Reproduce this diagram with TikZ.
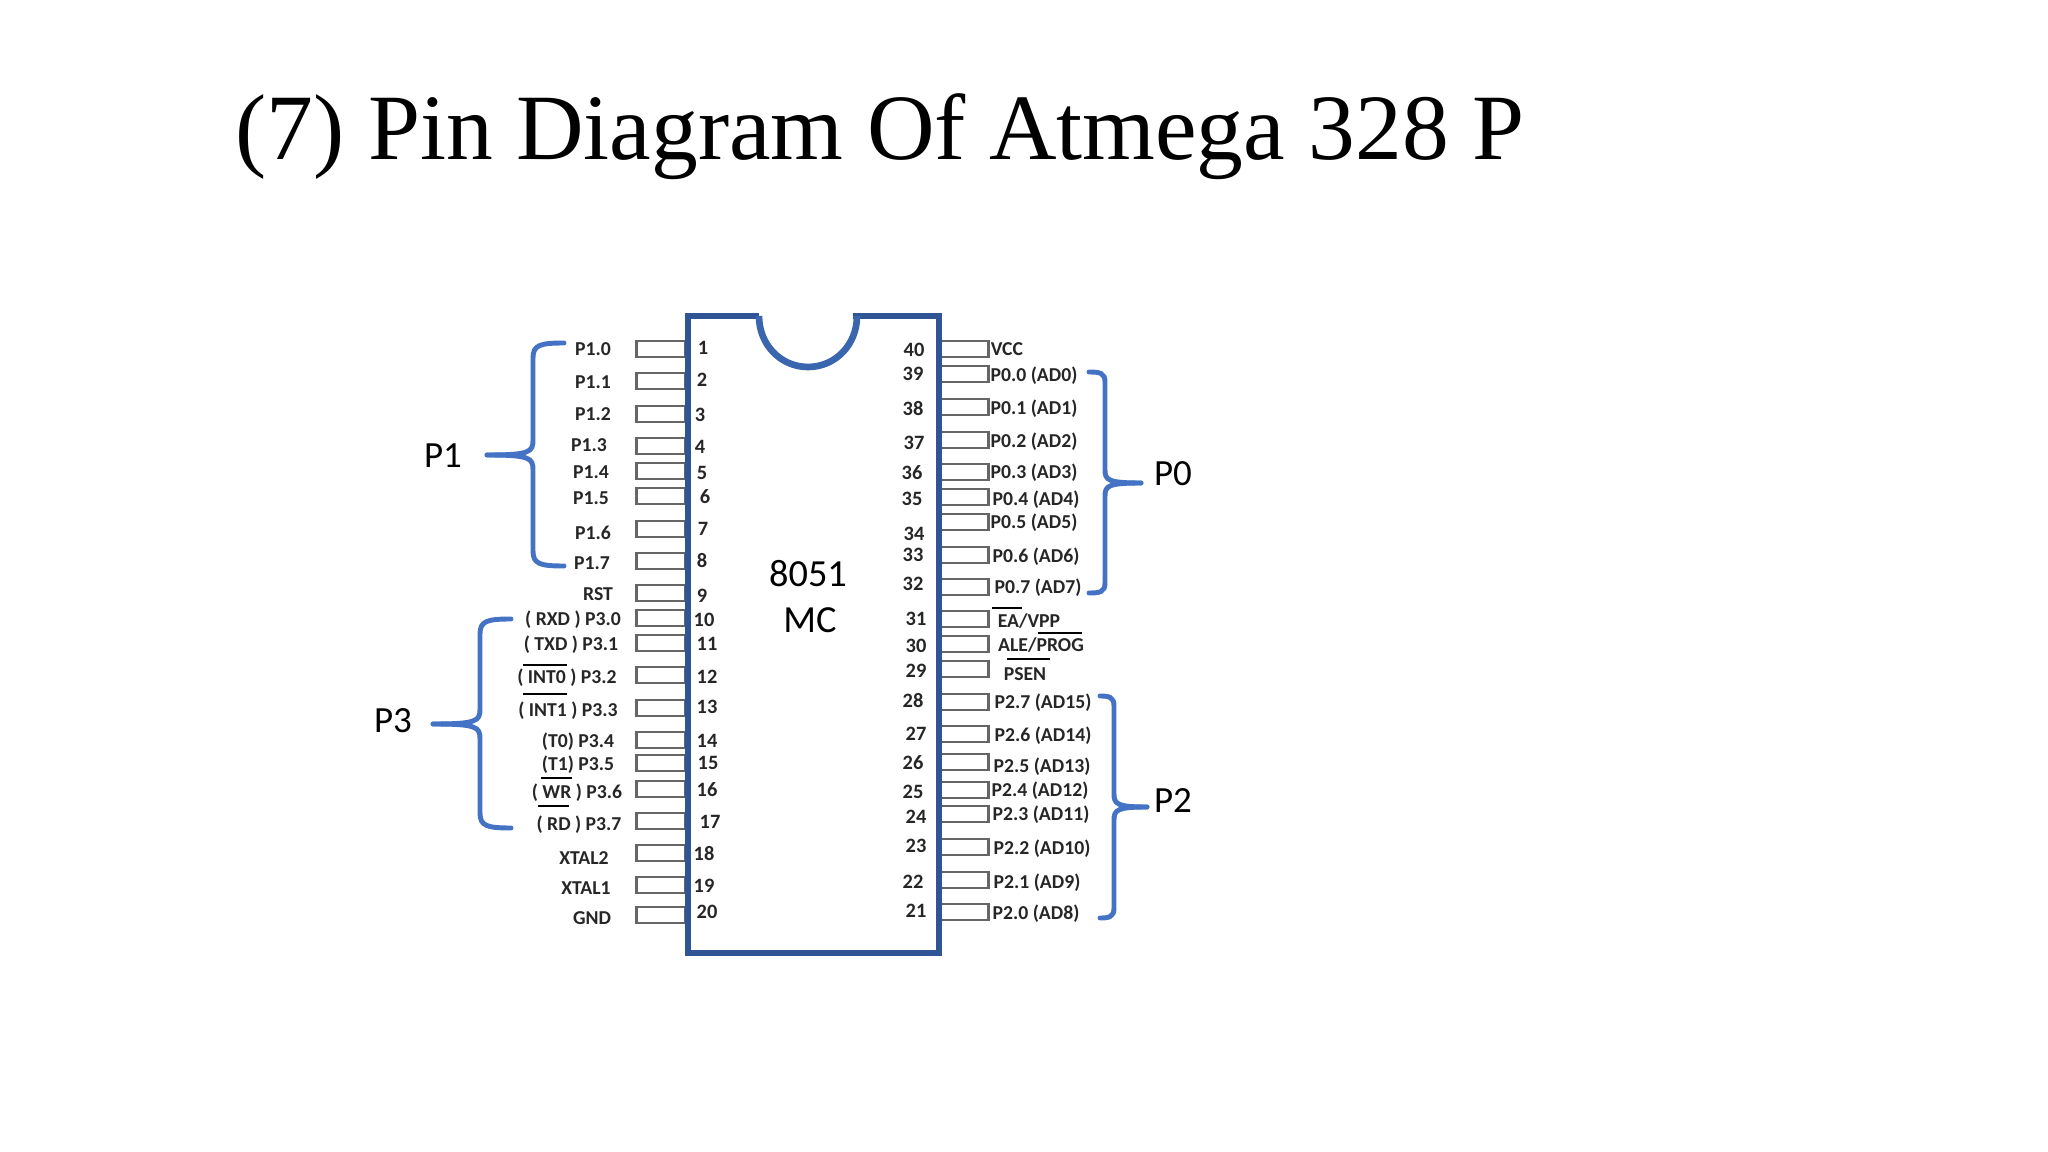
\documentclass[tikz,border=0pt]{standalone}
\usepackage{fontspec}
\setmainfont{Carlito}
\newfontfamily\titlefont{Liberation Serif}
\definecolor{chipblue}{HTML}{2F5597}
\definecolor{notchblue}{HTML}{3A66AE}
\definecolor{braceblue}{HTML}{4472C4}
\definecolor{pingray}{HTML}{666666}
\tikzset{
  pinbox/.style={draw=pingray,line width=0.65pt,fill=white,inner sep=0pt,minimum width=14pt,minimum height=4.4pt},
  pinname/.style={inner sep=0pt,yshift=-0.3pt,font=\fontsize{5.6}{7}\selectfont\bfseries,text=black!85},
  pinnum/.style={inner sep=0pt,font=\fontsize{5.8}{7}\selectfont\bfseries,text=black!85},
  portname/.style={inner sep=0pt,font=\fontsize{10.5}{12}\selectfont},
  chipname/.style={inner sep=0pt,yshift=-0.3pt,font=\fontsize{10.9}{13}\selectfont},
  portbrace/.style={draw=braceblue,line width=1.4pt,line cap=round},
  negbar/.style={line width=0.7pt}
}
\begin{document}
\begin{tikzpicture}[x=0.01cm,y=-0.01cm]
  \useasboundingbox (0,0) rectangle (2048,1152);
  \node[anchor=base west,inner sep=0pt,font=\fontsize{26.6}{30}\selectfont\titlefont] (title) at (235,160) {(7) Pin Diagram Of Atmega 328 P};
  % left pins
  \foreach \n/\y in {1/349,2/381,3/414,4/446,5/471,6/496,7/529,8/561,9/593,10/618,11/643,12/675,13/708,14/740,15/763,16/789,17/821,18/853,19/885,20/915}
    \node[pinbox] (pin\n) at (661,\y) {};
  % right pins
  \foreach \n/\y in {40/349,39/374,38/407,37/440,36/472,35/497,34/522,33/555,32/587,31/619,30/644,29/669,28/702,27/734,26/762,25/790,24/814,23/847,22/880,21/912}
    \node[pinbox] (pin\n) at (964,\y) {};
  % chip
  \draw[chipblue,line width=1.9pt,line join=miter] (759,316) -- (688,316) -- (688,953) -- (939,953) -- (939,316) -- (853,316);
  \draw[notchblue,line width=1.9pt] (759,316) .. controls (759,345) and (781,367) .. (808,367) .. controls (835,367) and (857,345) .. (857,316);
  \node[chipname] (num) at (808,572) {8051};
  \node[chipname] (mc) at (810,619) {MC};
  % numbers
  \foreach \n/\x/\y in {1/703/348,2/702/380,3/700/415,4/700/447,5/702/473,6/705/497,7/703/529,8/702/561,9/702/596,10/704/620,11/707/644,12/707/677,13/707/707,14/707/741,15/708/763,16/707/790,17/710/822,18/704/854,19/704/886,20/707/912,
    40/914/350,39/913/374,38/913/409,37/914/443,36/912/473,35/912/499,34/914/534,33/913/555,32/913/584,31/916/619,30/916/646,29/916/671,28/913/701,27/916/734,26/913/763,25/913/792,24/916/817,23/916/846,22/913/882,21/916/911}
    \node[pinnum] (n\n) at (\x,\y) {\n};
  % left names
  \node[pinname] (p10) at (593,348) {P1.0};
  \node[pinname] (p11) at (593,381) {P1.1};
  \node[pinname] (p12) at (593,413) {P1.2};
  \node[pinname] (p13) at (589,444) {P1.3};
  \node[pinname] (p14) at (591,471) {P1.4};
  \node[pinname] (p15) at (591,497) {P1.5};
  \node[pinname] (p16) at (593,532) {P1.6};
  \node[pinname] (p17) at (592,562) {P1.7};
  \node[pinname] (rst) at (598,593) {RST};
  \node[pinname] (p30) at (573,619) {( RXD ) P3.0};
  \node[pinname] (p31) at (571,644) {( TXD ) P3.1};
  \node[pinname] (p32) at (567,677) {( INT0 ) P3.2};
  \node[pinname] (p33) at (568,710) {( INT1 ) P3.3};
  \node[pinname] (p34) at (578,741) {(T0) P3.4};
  \node[pinname] (p35) at (578,764) {(T1) P3.5};
  \node[pinname] (p36) at (577,792) {( WR ) P3.6};
  \node[pinname] (p37) at (579,824) {( RD ) P3.7};
  \node[pinname] (xtal2) at (584,857) {XTAL2};
  \node[pinname] (xtal1) at (586,887) {XTAL1};
  \node[pinname] (gnd) at (592,917) {GND};
  % right names
  \node[pinname] (vcc) at (1007,348) {VCC};
  \node[pinname] (p00) at (1034,375) {P0.0 (AD0)};
  \node[pinname] (p01) at (1034,408) {P0.1 (AD1)};
  \node[pinname] (p02) at (1034,441) {P0.2 (AD2)};
  \node[pinname] (p03) at (1034,472) {P0.3 (AD3)};
  \node[pinname] (p04) at (1036,499) {P0.4 (AD4)};
  \node[pinname] (p05) at (1034,522) {P0.5 (AD5)};
  \node[pinname] (p06) at (1036,556) {P0.6 (AD6)};
  \node[pinname] (p07) at (1038,587) {P0.7 (AD7)};
  \node[pinname] (ea) at (1029,620) {EA/VPP};
  \node[pinname] (ale) at (1041,644) {ALE/PROG};
  \node[pinname] (psen) at (1025,673) {PSEN};
  \node[pinname] (p27) at (1043,702) {P2.7 (AD15)};
  \node[pinname] (p26) at (1043,735) {P2.6 (AD14)};
  \node[pinname] (p25) at (1042,766) {P2.5 (AD13)};
  \node[pinname] (p24) at (1040,790) {P2.4 (AD12)};
  \node[pinname] (p23) at (1041,814) {P2.3 (AD11)};
  \node[pinname] (p22) at (1042,848) {P2.2 (AD10)};
  \node[pinname] (p21) at (1037,882) {P2.1 (AD9)};
  \node[pinname] (p20) at (1036,913) {P2.0 (AD8)};
  % bars over the active low names
  \draw[negbar] (523,665) -- (567,665);
  \draw[negbar] (523,694) -- (567,694);
  \draw[negbar] (541,778) -- (572,778);
  \draw[negbar] (538,806) -- (569,806);
  \draw[negbar] (992,608) -- (1022,608);
  \draw[negbar] (1038,633) -- (1082,633);
  \draw[negbar] (1007,659) -- (1050,659);
  % ports
  \node[portname] (P1) at (443,456) {P1};
  \node[portname] (P3) at (393,721) {P3};
  \node[portname] (P0) at (1173,474) {P0};
  \node[portname] (P2) at (1173,801) {P2};
  \draw[portbrace] (564,343) .. controls (540,343) and (533,345) .. (533,358) -- (533,440) .. controls (533,452) and (530,455) .. (487,455);
  \draw[portbrace] (564,566) .. controls (540,566) and (533,564) .. (533,551) -- (533,470) .. controls (533,458) and (530,455) .. (487,455);
  \draw[portbrace] (511,619) .. controls (487,619) and (480,621) .. (480,634) -- (480,709) .. controls (480,721) and (477,724) .. (433,724);
  \draw[portbrace] (511,828) .. controls (487,828) and (480,826) .. (480,813) -- (480,739) .. controls (480,727) and (477,724) .. (433,724);
  \draw[portbrace] (1089,372) .. controls (1100,372) and (1105,373) .. (1105,382) -- (1105,470) .. controls (1105,480) and (1108,483) .. (1141,483);
  \draw[portbrace] (1089,593) .. controls (1100,593) and (1105,592) .. (1105,583) -- (1105,496) .. controls (1105,486) and (1108,483) .. (1141,483);
  \draw[portbrace] (1100,696) .. controls (1109,696) and (1114,697) .. (1114,706) -- (1114,794) .. controls (1114,804) and (1117,807) .. (1147,807);
  \draw[portbrace] (1100,918) .. controls (1109,918) and (1114,917) .. (1114,908) -- (1114,820) .. controls (1114,810) and (1117,807) .. (1147,807);
\end{tikzpicture}
\end{document}
